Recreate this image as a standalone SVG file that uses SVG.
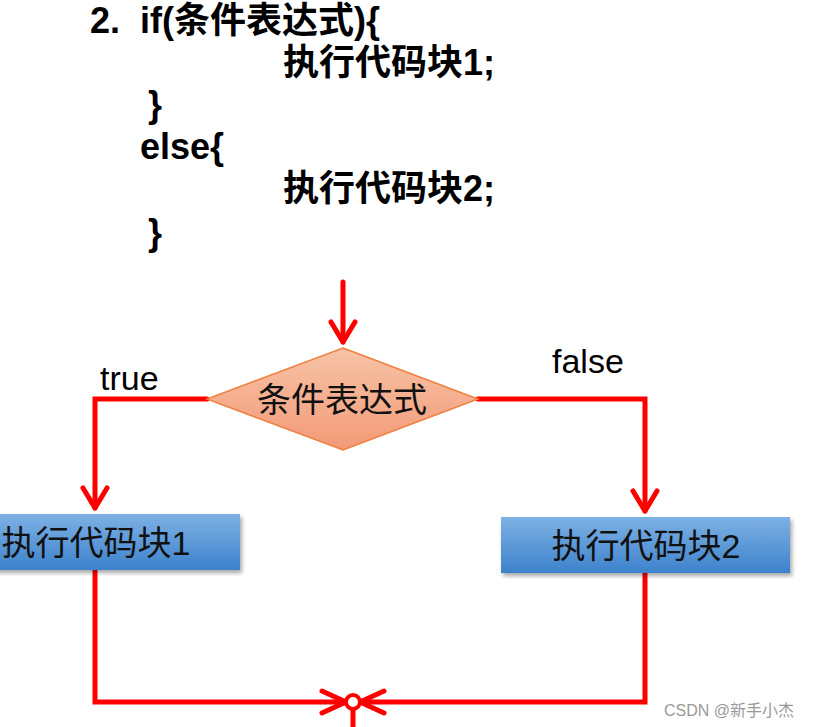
<svg xmlns="http://www.w3.org/2000/svg" width="815" height="727" viewBox="0 0 815 727">
<defs>
<linearGradient id="dg" x1="0" y1="0" x2="0" y2="1"><stop offset="0" stop-color="#f7c3a6"/><stop offset="1" stop-color="#f39a78"/></linearGradient>
<linearGradient id="bg" x1="0" y1="0" x2="0" y2="1"><stop offset="0" stop-color="#7eb1e4"/><stop offset="1" stop-color="#3d82cc"/></linearGradient>
<filter id="sh"><feDropShadow dx="2" dy="3" stdDeviation="2" flood-opacity="0.35"/></filter>
</defs>
<style>
.code{font-family:"Liberation Sans","Noto Sans CJK SC",sans-serif;font-size:36px;font-weight:bold;fill:#000}
.ln{fill:none;stroke:#ff0000;stroke-width:5;stroke-linecap:round;stroke-linejoin:miter}
.ar{fill:none;stroke:#ff0000;stroke-width:5;stroke-linecap:round;stroke-linejoin:round}
.lbl{font-family:"Liberation Sans","Noto Sans CJK SC",sans-serif;font-size:34px;fill:#000}
.bt{font-family:"Liberation Sans","Noto Sans CJK SC",sans-serif;font-size:34px;fill:#111}
</style>
<g id="code">
<text class="code" x="90" y="33">2.</text>
<text class="code" x="140" y="33">if(条件表达式){</text>
<text class="code" x="283" y="75">执行代码块1;</text>
<text class="code" x="148" y="117">}</text>
<text class="code" x="140" y="159">else{</text>
<text class="code" x="283" y="201">执行代码块2;</text>
<text class="code" x="148" y="245">}</text>
</g>
<g id="connectors">
<path class="ln" d="M343,282 V342"/>
<path class="ar" d="M331,322 L343,342 L355,322"/>
<path class="ln" d="M207,399 H95 V508"/>
<path class="ar" d="M83,488 L95,508 L107,488"/>
<path class="ln" d="M478,399 H645 V511"/>
<path class="ar" d="M633,491 L645,511 L657,491"/>
<path class="ln" d="M95,570 V702 H346"/>
<path class="ar" d="M322,691 L346,702 L322,713"/>
<path class="ln" d="M645,573 V702 H360"/>
<path class="ar" d="M384,691 L360,702 L384,713"/>
<path class="ln" d="M353,709 V727"/>
<circle cx="353" cy="702" r="7" fill="#fff" stroke="#ff0000" stroke-width="4"/>
<text class="lbl" x="100" y="390">true</text>
<text class="lbl" x="552" y="373">false</text>
</g>
<g id="cond">
<polygon points="343,348 478,399 343,450 207,399" fill="url(#dg)" stroke="#f08040" stroke-width="1.5"/>
<text class="bt" x="342" y="412" text-anchor="middle" font-size="30">条件表达式</text>
</g>
<g id="block1">
<rect x="-5" y="514" width="245" height="56" fill="url(#bg)" filter="url(#sh)"/>
<text class="bt" x="96" y="555" text-anchor="middle">执行代码块1</text>
</g>
<g id="block2">
<rect x="501" y="517" width="289" height="56" fill="url(#bg)" filter="url(#sh)"/>
<text class="bt" x="646" y="558" text-anchor="middle">执行代码块2</text>
</g>
<text x="664" y="716" font-family="Liberation Sans,Noto Sans CJK SC,sans-serif" font-size="16" fill="#999">CSDN @新手小杰</text>
</svg>
